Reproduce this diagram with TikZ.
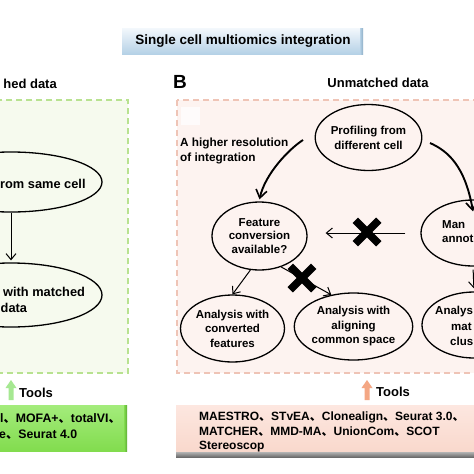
\documentclass[tikz,border=0pt]{standalone}
\usepackage{fontspec}
\setmainfont{Liberation Sans}
\newfontfamily\cjk{Noto Sans CJK SC}
\usetikzlibrary{shapes.geometric,shapes.misc,arrows.meta}
\newcommand\dn{{\cjk 、}}
\definecolor{lgfill}{HTML}{F6FAEE}
\definecolor{lgline}{HTML}{B8E290}
\definecolor{pkfill}{HTML}{FDF3F0}
\definecolor{pkline}{HTML}{EFC4B6}
\definecolor{garrow}{HTML}{A6E892}
\definecolor{oarrow}{HTML}{F4A784}
\definecolor{tbtop}{HTML}{F3F8FC}
\definecolor{tbbot}{HTML}{B5D1E6}
\definecolor{tbside}{HTML}{8EAEC6}
\definecolor{gbtop}{HTML}{A4EC7C}
\definecolor{gbbot}{HTML}{82DC4E}
\definecolor{gbside}{HTML}{5CAA34}
\definecolor{pbtop}{HTML}{FDE7E0}
\definecolor{pbbot}{HTML}{F9D8CC}
\begin{document}
\begin{tikzpicture}[x=1pt,y=-1pt,
  txt/.style={font=\fontsize{11.5}{13.5}\selectfont\bfseries, align=center, inner sep=0pt},
  ltxt/.style={font=\fontsize{12.8}{16}\selectfont\bfseries, inner sep=0pt},
  head/.style={font=\fontsize{13}{15}\selectfont\bfseries, inner sep=0pt},
  tooltxt/.style={font=\fontsize{12.3}{15}\selectfont\bfseries, inner sep=0pt, align=left},
  ell/.style={ellipse, draw, line width=1.3pt, inner sep=0pt},
  panel/.style={dashed, dash pattern=on 6pt off 4pt, line width=1.2pt},
  thinarrow/.style={line width=1pt, -{Straight Barb[length=6pt,width=10pt,line width=1pt]}},
  bigarrow/.style={line width=1.9pt, -{Straight Barb[length=8pt,width=11pt,line width=1.6pt]}},
  xmark/.style={cross out, draw, line width=7.5pt, minimum size=16pt, inner sep=0pt}]
\useasboundingbox (0,0) rectangle (474,474);
\clip (0,0) rectangle (474,474);
\fill[white] (0,0) rectangle (474,474);

% title
\shade[top color=tbtop, bottom color=tbbot] (122,28) rectangle (360,54);
\shade[left color=tbbot, right color=tbside] (360,28) rectangle (363,54);
\node[font=\fontsize{13.5}{15}\selectfont\bfseries, inner sep=0pt] (title) at (243,41) {Single cell multiomics integration};

% headings
\node[head, anchor=east] (hA) at (57,84) {hed data};
\node[font=\fontsize{19}{20}\selectfont\bfseries, inner sep=0pt] (hB) at (180,82) {B};
\node[head] (hU) at (378,83) {Unmatched data};

% panels
\draw[panel, draw=lgline, fill=lgfill] (-10,100) rectangle (128,373);
\draw[panel, draw=pkline, fill=pkfill] (177,100) rectangle (490,373);
\fill[white, opacity=0.75] (181,107) rectangle (200,125);

% left panel
\node[ell, minimum width=182pt, minimum height=60pt] (sc) at (11,182) {};
\node[ltxt, anchor=west] (sct) at (0,184) {rom same cell};
\node[ell, minimum width=182pt, minimum height=64pt] (lm) at (11,295) {};
\node[ltxt, anchor=west] (lmt1) at (3,292) {with matched};
\node[ltxt, anchor=west] (lmt2) at (0.5,308) {data};
\draw[thinarrow, shorten >=2pt] (sc.south) -- (lm.north);

% right panel
\node[txt, anchor=west, align=left, font=\fontsize{11.8}{15}\selectfont\bfseries] (hr) at (180,150.5) {A higher resolution\\of integration};
\node[ell, minimum width=102pt, minimum height=66pt, font=\fontsize{11.5}{15}\selectfont\bfseries, align=center] (prof) at (368.5,137.5) {Profiling from\\different cell};
\node[ell, minimum width=95pt, minimum height=68pt, txt] (feat) at (259.5,236) {Feature\\conversion\\available?};
\node[ell, minimum width=104pt, minimum height=66pt] (man) at (473,233) {};
\node[txt, anchor=west, align=left] (mant) at (442,231.5) {Man\\annot};
\node[ell, minimum width=101pt, minimum height=67pt, txt, font=\fontsize{11.5}{14.5}\selectfont\bfseries] (conv) at (232.5,328.5) {Analysis with\\converted\\features};
\node[ell, minimum width=107pt, minimum height=67pt, txt, font=\fontsize{11.5}{14.5}\selectfont\bfseries] (alig) at (353.5,326.5) {Analysis with\\aligning\\common space};
\node[ell, minimum width=104pt, minimum height=66pt] (mcl) at (474,325) {};
\node[txt, anchor=west] (mclt1) at (435,312) {Analys};
\node[txt, anchor=west] (mclt2) at (451,327) {mat};
\node[txt, anchor=west] (mclt3) at (450,341.5) {clus};

\coordinate (c1s) at (303,140);
\coordinate (c2s) at (430,143);
\draw[bigarrow] (c1s) .. controls (289,149) and (265,174) .. ([yshift=2pt]feat.north);
\draw[bigarrow] (c2s) .. controls (448,151) and (465,166) .. ([yshift=-12pt]man.north);

\draw[thinarrow, shorten <=15pt, shorten >=18pt] (man.west) -- (man.west -| feat.east);
\draw[thinarrow] (feat.255) -- (conv.north);
\draw[thinarrow] (feat.305) -- (alig.125);
\draw[thinarrow, shorten <=3pt, shorten >=3pt] (man.south) -- (mcl.north);
\node[xmark] (x1) at (367,232) {};
\node[xmark] (x2) at (302,278) {};

% tools arrows and labels
\fill[garrow] (8.5,400) -- (13.5,400) -- (13.5,388) -- (16.5,388) -- (11,380) -- (5.5,388) -- (8.5,388) -- cycle;
\node[head, anchor=west] (tl) at (19,393) {Tools};
\fill[oarrow] (364.5,400) -- (369.5,400) -- (369.5,388) -- (372.5,388) -- (367,380) -- (361.5,388) -- (364.5,388) -- cycle;
\node[head, anchor=west] (tr) at (376,392) {Tools};

% tools boxes
\shade[top color=gbtop, bottom color=gbbot] (-10,405) rectangle (124,451);
\shade[left color=gbbot, right color=gbside] (124,405) rectangle (127,451);
\node[tooltxt, anchor=west] (gt1) at (0,419) {l\dn MOFA+\dn totalVI\dn};
\node[tooltxt, anchor=west] (gt2) at (-1,435) {e\dn Seurat 4.0};

\shade[top color=pbtop, bottom color=pbbot] (176,405) rectangle (490,452);
\shade[top color=gray!60, bottom color=gray!85!black] (176,452) rectangle (490,457);
\node[tooltxt, anchor=west, font=\fontsize{12}{14.5}\selectfont\bfseries] (pt) at (199,432) {MAESTRO\dn STvEA\dn Clonealign\dn Seurat 3.0\dn\\MATCHER\dn MMD-MA\dn UnionCom\dn SCOT\\Stereoscop};
\end{tikzpicture}
\end{document}
